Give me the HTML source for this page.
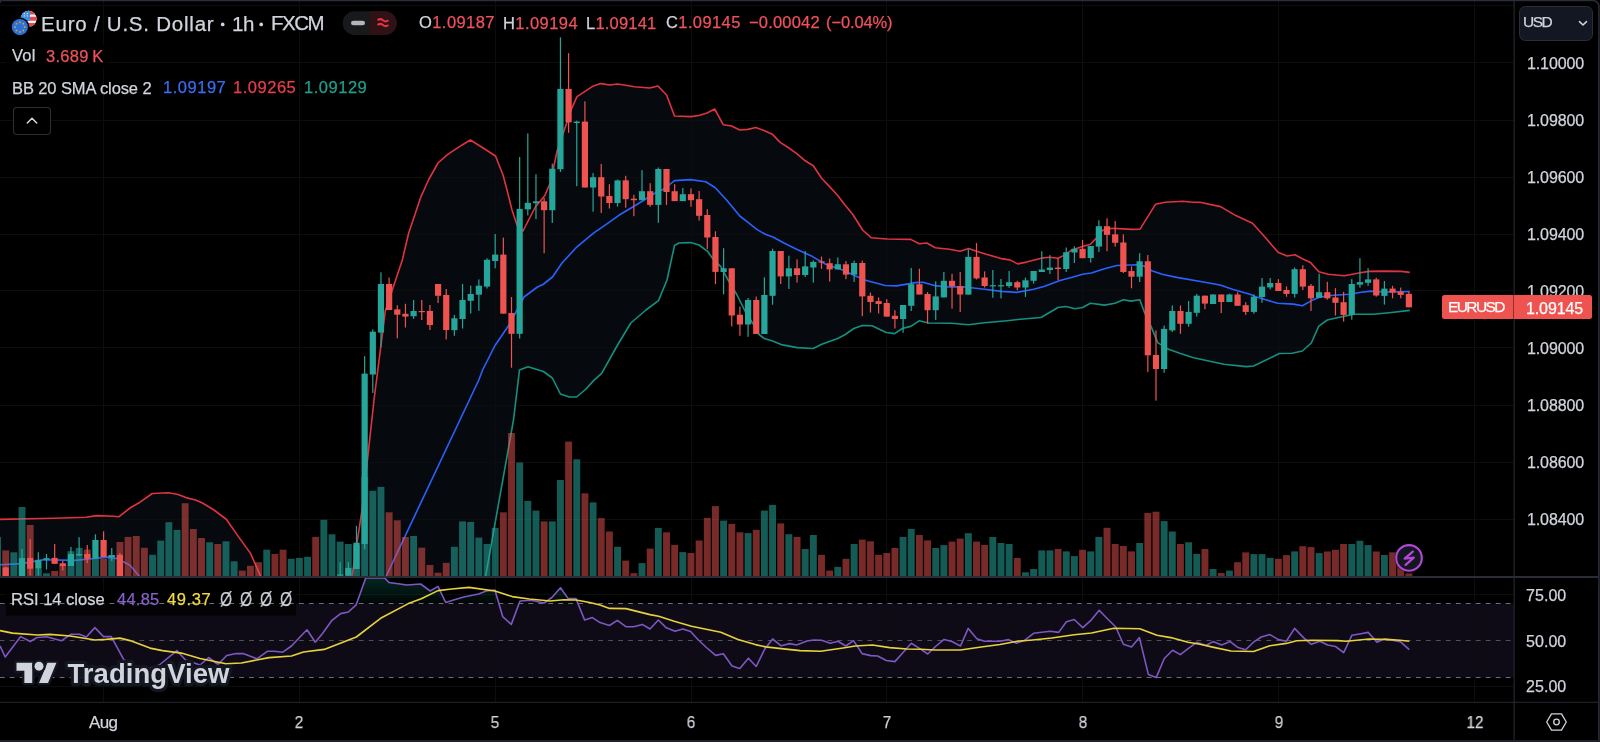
<!DOCTYPE html>
<html><head><meta charset="utf-8"><style>
html,body{margin:0;padding:0;background:#000;width:1600px;height:742px;overflow:hidden}
.t{position:absolute;white-space:pre;font-family:"Liberation Sans", sans-serif;line-height:1.2;-webkit-text-stroke:0.25px currentColor;will-change:transform}
.c{text-align:center}
.logo{font-weight:bold;color:#d1d4dc;letter-spacing:-0.3px;-webkit-text-stroke:0;text-shadow:0 0 2px #131722,0 0 2px #131722,1px 1px 0 #131722,-1px -1px 0 #131722,1px -1px 0 #131722,-1px 1px 0 #131722}
svg{position:absolute;left:0;top:0}
</style></head><body>
<svg width="1600" height="742" viewBox="0 0 1600 742">
<defs>
<clipPath id="main"><rect x="0" y="1" width="1514" height="576"/></clipPath>
<clipPath id="rsi"><rect x="0" y="578" width="1514" height="124"/></clipPath>
<clipPath id="ob"><rect x="0" y="578" width="1514" height="25.6"/></clipPath>
<linearGradient id="obg" x1="0" y1="578" x2="0" y2="603.6" gradientUnits="userSpaceOnUse"><stop offset="0" stop-color="#0b7a66" stop-opacity="0.32"/><stop offset="1" stop-color="#0b7a66" stop-opacity="0.05"/></linearGradient>
</defs>
<g clip-path="url(#main)">
<polygon points="0.0,519.4 54.0,518.3 86.0,517.2 97.0,515.6 113.0,516.2 119.0,516.7 130.0,508.0 140.0,502.2 152.3,493.5 168.5,492.7 178.0,494.5 186.0,497.6 195.5,500.0 202.0,502.7 214.0,510.0 226.5,519.5 237.0,534.6 250.5,553.4 261.0,577.0 261.0,600.0 0.0,600.0" fill="#060a0f"/>
<polygon points="351.9,577.0 355.0,556.0 362.0,510.0 374.0,400.0 385.3,311.0 402.3,260.0 408.7,233.0 421.0,196.6 428.5,180.0 438.0,163.0 447.4,154.7 462.5,144.7 470.4,140.0 483.2,148.0 495.5,156.0 503.0,175.0 507.0,190.0 512.0,210.0 517.0,225.0 523.0,231.0 535.3,207.0 544.7,195.7 550.4,182.5 557.0,151.3 564.3,130.0 571.7,108.4 577.0,96.7 592.6,86.3 600.6,83.6 610.0,85.0 617.5,84.0 627.0,85.5 634.5,86.8 649.6,88.0 658.0,86.0 666.6,95.0 674.5,116.0 691.0,116.6 698.7,115.5 707.0,113.0 714.7,109.0 723.2,124.7 731.7,126.0 739.7,130.0 747.8,129.4 755.9,127.5 764.0,130.5 772.8,134.6 780.1,142.4 788.2,147.5 797.1,153.9 805.2,160.8 813.3,165.8 821.4,178.0 828.6,185.6 837.5,195.3 844.8,204.8 852.9,214.5 862.6,230.0 871.1,237.7 887.2,239.0 910.8,239.4 919.2,243.8 926.8,243.0 935.3,247.7 949.4,249.2 960.0,251.2 968.7,248.6 976.6,251.2 986.2,254.2 1001.1,258.6 1009.9,259.9 1017.7,263.9 1026.5,262.1 1042.2,257.9 1050.1,257.3 1058.0,258.2 1063.3,255.6 1071.1,250.3 1082.5,246.4 1090.4,244.2 1095.6,238.9 1102.6,230.2 1112.0,228.3 1123.4,228.9 1131.9,229.4 1140.0,229.2 1155.5,204.3 1165.0,202.3 1182.8,201.3 1193.2,202.3 1200.0,202.3 1220.5,206.6 1235.8,215.6 1252.5,223.3 1264.0,236.0 1278.0,252.2 1287.0,256.0 1295.0,254.8 1301.9,258.5 1310.4,262.4 1318.8,271.8 1328.5,274.3 1344.3,275.7 1358.9,273.0 1368.6,271.4 1385.6,271.1 1401.3,271.4 1409.8,272.4 1409.8,310.4 1391.6,312.5 1373.4,314.3 1354.0,314.3 1340.7,317.0 1327.3,320.0 1318.8,326.2 1311.3,343.0 1302.4,351.0 1292.1,353.2 1279.3,353.5 1253.7,366.0 1246.0,366.6 1223.8,364.3 1208.7,361.0 1193.6,357.7 1180.4,353.6 1167.2,348.7 1157.7,342.6 1151.0,326.4 1144.5,312.5 1139.8,299.8 1131.0,301.1 1123.4,299.8 1115.0,303.2 1104.5,305.1 1090.4,303.2 1082.6,307.5 1075.0,308.7 1065.7,306.5 1058.0,307.5 1041.0,317.5 1020.4,319.3 1007.2,320.7 984.5,322.7 968.5,324.7 951.3,323.2 928.7,323.0 919.2,320.8 910.8,326.4 902.3,328.5 894.7,333.6 886.2,332.5 872.0,325.7 862.3,325.5 853.8,328.5 845.3,334.5 837.7,338.5 821.7,344.3 813.2,348.5 797.2,347.6 781.1,344.6 772.6,341.0 764.2,338.5 758.5,334.0 754.0,325.3 744.5,310.0 737.0,295.0 727.5,279.0 720.8,266.6 713.0,259.0 707.5,251.3 699.0,245.0 690.6,242.6 679.0,243.0 674.5,245.5 667.0,280.0 658.5,300.6 646.0,310.0 630.8,323.0 617.0,346.0 601.7,373.3 593.6,380.6 585.5,389.5 576.6,397.0 569.3,397.0 560.4,394.0 552.3,378.0 543.4,371.5 528.0,366.7 519.5,370.0 513.5,420.0 485.5,577.0 351.9,600.0" fill="#060a0f"/>
<rect x="0" y="5" width="1514" height="1" fill="#0d0d0d"/>
<rect x="0" y="62" width="1514" height="1" fill="#0d0d0d"/>
<rect x="0" y="120" width="1514" height="1" fill="#0d0d0d"/>
<rect x="0" y="177" width="1514" height="1" fill="#0d0d0d"/>
<rect x="0" y="234" width="1514" height="1" fill="#0d0d0d"/>
<rect x="0" y="290" width="1514" height="1" fill="#0d0d0d"/>
<rect x="0" y="347" width="1514" height="1" fill="#0d0d0d"/>
<rect x="0" y="405" width="1514" height="1" fill="#0d0d0d"/>
<rect x="0" y="462" width="1514" height="1" fill="#0d0d0d"/>
<rect x="0" y="519" width="1514" height="1" fill="#0d0d0d"/>
<rect x="103" y="0" width="1" height="702" fill="#0d0d0d"/>
<rect x="299" y="0" width="1" height="702" fill="#0d0d0d"/>
<rect x="495" y="0" width="1" height="702" fill="#0d0d0d"/>
<rect x="691" y="0" width="1" height="702" fill="#0d0d0d"/>
<rect x="886" y="0" width="1" height="702" fill="#0d0d0d"/>
<rect x="1082" y="0" width="1" height="702" fill="#0d0d0d"/>
<rect x="1278" y="0" width="1" height="702" fill="#0d0d0d"/>
<rect x="1474" y="0" width="1" height="702" fill="#0d0d0d"/>
<polyline points="0.0,519.4 54.0,518.3 86.0,517.2 97.0,515.6 113.0,516.2 119.0,516.7 130.0,508.0 140.0,502.2 152.3,493.5 168.5,492.7 178.0,494.5 186.0,497.6 195.5,500.0 202.0,502.7 214.0,510.0 226.5,519.5 237.0,534.6 250.5,553.4 261.0,577.0" fill="none" stroke="#e03340" stroke-width="1.6" stroke-linejoin="round"/>
<polyline points="351.9,577.0 355.0,556.0 362.0,510.0 374.0,400.0 385.3,311.0 402.3,260.0 408.7,233.0 421.0,196.6 428.5,180.0 438.0,163.0 447.4,154.7 462.5,144.7 470.4,140.0 483.2,148.0 495.5,156.0 503.0,175.0 507.0,190.0 512.0,210.0 517.0,225.0 523.0,231.0 535.3,207.0 544.7,195.7 550.4,182.5 557.0,151.3 564.3,130.0 571.7,108.4 577.0,96.7 592.6,86.3 600.6,83.6 610.0,85.0 617.5,84.0 627.0,85.5 634.5,86.8 649.6,88.0 658.0,86.0 666.6,95.0 674.5,116.0 691.0,116.6 698.7,115.5 707.0,113.0 714.7,109.0 723.2,124.7 731.7,126.0 739.7,130.0 747.8,129.4 755.9,127.5 764.0,130.5 772.8,134.6 780.1,142.4 788.2,147.5 797.1,153.9 805.2,160.8 813.3,165.8 821.4,178.0 828.6,185.6 837.5,195.3 844.8,204.8 852.9,214.5 862.6,230.0 871.1,237.7 887.2,239.0 910.8,239.4 919.2,243.8 926.8,243.0 935.3,247.7 949.4,249.2 960.0,251.2 968.7,248.6 976.6,251.2 986.2,254.2 1001.1,258.6 1009.9,259.9 1017.7,263.9 1026.5,262.1 1042.2,257.9 1050.1,257.3 1058.0,258.2 1063.3,255.6 1071.1,250.3 1082.5,246.4 1090.4,244.2 1095.6,238.9 1102.6,230.2 1112.0,228.3 1123.4,228.9 1131.9,229.4 1140.0,229.2 1155.5,204.3 1165.0,202.3 1182.8,201.3 1193.2,202.3 1200.0,202.3 1220.5,206.6 1235.8,215.6 1252.5,223.3 1264.0,236.0 1278.0,252.2 1287.0,256.0 1295.0,254.8 1301.9,258.5 1310.4,262.4 1318.8,271.8 1328.5,274.3 1344.3,275.7 1358.9,273.0 1368.6,271.4 1385.6,271.1 1401.3,271.4 1409.8,272.4" fill="none" stroke="#e03340" stroke-width="1.6" stroke-linejoin="round"/>
<polyline points="0.0,564.7 21.6,563.6 43.0,559.8 75.0,560.4 91.6,558.7 107.8,557.1 117.5,558.7 130.0,565.2 140.0,577.0" fill="none" stroke="#2962ff" stroke-width="1.6" stroke-linejoin="round"/>
<polyline points="385.8,577.0 478.8,380.0 482.6,370.0 495.0,345.5 509.0,325.0 524.0,297.0 537.4,287.0 543.0,284.5 552.5,277.0 562.0,263.0 577.0,246.8 593.8,232.8 603.0,226.6 618.9,215.3 637.7,204.0 654.7,193.3 664.0,189.0 674.5,180.6 690.6,179.6 705.7,181.7 715.0,187.5 726.6,200.0 739.8,216.0 748.3,222.6 756.8,229.4 765.3,234.3 772.8,237.0 784.0,243.0 795.5,248.7 812.5,256.6 825.7,264.2 842.6,270.0 855.0,275.8 866.4,280.6 885.3,285.5 896.6,285.9 915.5,282.6 923.0,282.3 936.2,285.9 949.4,287.0 962.6,286.8 984.5,289.3 1001.5,291.4 1016.6,292.4 1033.6,289.2 1044.0,286.4 1060.0,280.5 1073.2,277.0 1082.6,274.3 1091.3,273.0 1104.5,268.7 1116.8,265.5 1136.6,264.7 1144.0,266.0 1151.7,270.8 1163.0,274.5 1178.0,277.6 1199.2,281.3 1220.0,285.0 1233.2,289.4 1250.0,294.2 1255.8,296.7 1277.6,303.3 1293.4,304.1 1302.5,305.8 1311.6,300.6 1320.0,297.0 1331.0,295.5 1349.2,294.3 1361.3,292.3 1371.0,291.1 1385.6,292.0 1409.8,291.5" fill="none" stroke="#2962ff" stroke-width="1.6" stroke-linejoin="round"/>
<polyline points="485.5,577.0 513.5,420.0 519.5,370.0 528.0,366.7 543.4,371.5 552.3,378.0 560.4,394.0 569.3,397.0 576.6,397.0 585.5,389.5 593.6,380.6 601.7,373.3 617.0,346.0 630.8,323.0 646.0,310.0 658.5,300.6 667.0,280.0 674.5,245.5 679.0,243.0 690.6,242.6 699.0,245.0 707.5,251.3 713.0,259.0 720.8,266.6 727.5,279.0 737.0,295.0 744.5,310.0 754.0,325.3 758.5,334.0 764.2,338.5 772.6,341.0 781.1,344.6 797.2,347.6 813.2,348.5 821.7,344.3 837.7,338.5 845.3,334.5 853.8,328.5 862.3,325.5 872.0,325.7 886.2,332.5 894.7,333.6 902.3,328.5 910.8,326.4 919.2,320.8 928.7,323.0 951.3,323.2 968.5,324.7 984.5,322.7 1007.2,320.7 1020.4,319.3 1041.0,317.5 1058.0,307.5 1065.7,306.5 1075.0,308.7 1082.6,307.5 1090.4,303.2 1104.5,305.1 1115.0,303.2 1123.4,299.8 1131.0,301.1 1139.8,299.8 1144.5,312.5 1151.0,326.4 1157.7,342.6 1167.2,348.7 1180.4,353.6 1193.6,357.7 1208.7,361.0 1223.8,364.3 1246.0,366.6 1253.7,366.0 1279.3,353.5 1292.1,353.2 1302.4,351.0 1311.3,343.0 1318.8,326.2 1327.3,320.0 1340.7,317.0 1354.0,314.3 1373.4,314.3 1391.6,312.5 1409.8,310.4" fill="none" stroke="#159080" stroke-width="1.6" stroke-linejoin="round"/>
<rect x="-5.91" y="537.0" width="6.9" height="39.0" fill="rgba(38,166,154,0.55)"/>
<rect x="2.25" y="550.4" width="6.9" height="25.6" fill="rgba(239,83,80,0.5)"/>
<rect x="10.41" y="552.3" width="6.9" height="23.7" fill="rgba(38,166,154,0.55)"/>
<rect x="18.57" y="507.0" width="6.9" height="69.0" fill="rgba(38,166,154,0.55)"/>
<rect x="26.72" y="525.0" width="6.9" height="51.0" fill="rgba(239,83,80,0.5)"/>
<rect x="34.88" y="569.0" width="6.9" height="7.0" fill="rgba(38,166,154,0.55)"/>
<rect x="43.04" y="573.3" width="6.9" height="2.7" fill="rgba(38,166,154,0.55)"/>
<rect x="51.20" y="571.0" width="6.9" height="5.0" fill="rgba(239,83,80,0.5)"/>
<rect x="59.36" y="564.7" width="6.9" height="11.3" fill="rgba(239,83,80,0.5)"/>
<rect x="67.51" y="551.2" width="6.9" height="24.8" fill="rgba(38,166,154,0.55)"/>
<rect x="75.67" y="548.0" width="6.9" height="28.0" fill="rgba(38,166,154,0.55)"/>
<rect x="83.83" y="549.6" width="6.9" height="26.4" fill="rgba(239,83,80,0.5)"/>
<rect x="91.99" y="558.7" width="6.9" height="17.3" fill="rgba(38,166,154,0.55)"/>
<rect x="100.15" y="558.7" width="6.9" height="17.3" fill="rgba(239,83,80,0.5)"/>
<rect x="108.30" y="555.5" width="6.9" height="20.5" fill="rgba(38,166,154,0.55)"/>
<rect x="116.46" y="542.0" width="6.9" height="34.0" fill="rgba(239,83,80,0.5)"/>
<rect x="124.62" y="536.9" width="6.9" height="39.1" fill="rgba(239,83,80,0.5)"/>
<rect x="132.78" y="536.0" width="6.9" height="40.0" fill="rgba(239,83,80,0.5)"/>
<rect x="140.94" y="547.8" width="6.9" height="28.2" fill="rgba(239,83,80,0.5)"/>
<rect x="149.09" y="554.8" width="6.9" height="21.2" fill="rgba(38,166,154,0.55)"/>
<rect x="157.25" y="540.6" width="6.9" height="35.4" fill="rgba(38,166,154,0.55)"/>
<rect x="165.41" y="522.2" width="6.9" height="53.8" fill="rgba(38,166,154,0.55)"/>
<rect x="173.57" y="529.9" width="6.9" height="46.1" fill="rgba(38,166,154,0.55)"/>
<rect x="181.73" y="503.2" width="6.9" height="72.8" fill="rgba(239,83,80,0.5)"/>
<rect x="189.88" y="529.0" width="6.9" height="47.0" fill="rgba(239,83,80,0.5)"/>
<rect x="198.04" y="538.0" width="6.9" height="38.0" fill="rgba(239,83,80,0.5)"/>
<rect x="206.20" y="542.3" width="6.9" height="33.7" fill="rgba(38,166,154,0.55)"/>
<rect x="214.36" y="544.0" width="6.9" height="32.0" fill="rgba(239,83,80,0.5)"/>
<rect x="222.52" y="541.3" width="6.9" height="34.7" fill="rgba(38,166,154,0.55)"/>
<rect x="230.67" y="561.3" width="6.9" height="14.7" fill="rgba(38,166,154,0.55)"/>
<rect x="238.83" y="570.6" width="6.9" height="5.4" fill="rgba(239,83,80,0.5)"/>
<rect x="246.99" y="565.8" width="6.9" height="10.2" fill="rgba(239,83,80,0.5)"/>
<rect x="255.15" y="562.2" width="6.9" height="13.8" fill="rgba(239,83,80,0.5)"/>
<rect x="263.31" y="549.7" width="6.9" height="26.3" fill="rgba(38,166,154,0.55)"/>
<rect x="271.46" y="553.9" width="6.9" height="22.1" fill="rgba(239,83,80,0.5)"/>
<rect x="279.62" y="549.7" width="6.9" height="26.3" fill="rgba(239,83,80,0.5)"/>
<rect x="287.78" y="558.8" width="6.9" height="17.2" fill="rgba(38,166,154,0.55)"/>
<rect x="295.94" y="557.9" width="6.9" height="18.1" fill="rgba(38,166,154,0.55)"/>
<rect x="304.10" y="556.8" width="6.9" height="19.2" fill="rgba(38,166,154,0.55)"/>
<rect x="312.25" y="536.9" width="6.9" height="39.1" fill="rgba(239,83,80,0.5)"/>
<rect x="320.41" y="519.8" width="6.9" height="56.2" fill="rgba(38,166,154,0.55)"/>
<rect x="328.57" y="534.3" width="6.9" height="41.7" fill="rgba(38,166,154,0.55)"/>
<rect x="336.73" y="541.6" width="6.9" height="34.4" fill="rgba(38,166,154,0.55)"/>
<rect x="344.89" y="544.0" width="6.9" height="32.0" fill="rgba(38,166,154,0.55)"/>
<rect x="353.04" y="545.0" width="6.9" height="31.0" fill="rgba(38,166,154,0.55)"/>
<rect x="361.20" y="477.0" width="6.9" height="99.0" fill="rgba(38,166,154,0.55)"/>
<rect x="369.36" y="490.8" width="6.9" height="85.2" fill="rgba(38,166,154,0.55)"/>
<rect x="377.52" y="486.9" width="6.9" height="89.1" fill="rgba(38,166,154,0.55)"/>
<rect x="385.68" y="512.3" width="6.9" height="63.7" fill="rgba(239,83,80,0.5)"/>
<rect x="393.83" y="520.3" width="6.9" height="55.7" fill="rgba(239,83,80,0.5)"/>
<rect x="401.99" y="537.0" width="6.9" height="39.0" fill="rgba(239,83,80,0.5)"/>
<rect x="410.15" y="536.0" width="6.9" height="40.0" fill="rgba(38,166,154,0.55)"/>
<rect x="418.31" y="547.7" width="6.9" height="28.3" fill="rgba(239,83,80,0.5)"/>
<rect x="426.47" y="565.0" width="6.9" height="11.0" fill="rgba(239,83,80,0.5)"/>
<rect x="434.62" y="572.7" width="6.9" height="3.3" fill="rgba(239,83,80,0.5)"/>
<rect x="442.78" y="562.8" width="6.9" height="13.2" fill="rgba(239,83,80,0.5)"/>
<rect x="450.94" y="546.8" width="6.9" height="29.2" fill="rgba(38,166,154,0.55)"/>
<rect x="459.10" y="521.4" width="6.9" height="54.6" fill="rgba(38,166,154,0.55)"/>
<rect x="467.26" y="522.0" width="6.9" height="54.0" fill="rgba(38,166,154,0.55)"/>
<rect x="475.41" y="537.6" width="6.9" height="38.4" fill="rgba(38,166,154,0.55)"/>
<rect x="483.57" y="544.0" width="6.9" height="32.0" fill="rgba(38,166,154,0.55)"/>
<rect x="491.73" y="527.9" width="6.9" height="48.1" fill="rgba(38,166,154,0.55)"/>
<rect x="499.89" y="512.3" width="6.9" height="63.7" fill="rgba(239,83,80,0.5)"/>
<rect x="508.05" y="433.0" width="6.9" height="143.0" fill="rgba(239,83,80,0.5)"/>
<rect x="516.20" y="462.5" width="6.9" height="113.5" fill="rgba(38,166,154,0.55)"/>
<rect x="524.36" y="500.9" width="6.9" height="75.1" fill="rgba(38,166,154,0.55)"/>
<rect x="532.52" y="510.6" width="6.9" height="65.4" fill="rgba(38,166,154,0.55)"/>
<rect x="540.68" y="521.4" width="6.9" height="54.6" fill="rgba(239,83,80,0.5)"/>
<rect x="548.84" y="521.4" width="6.9" height="54.6" fill="rgba(38,166,154,0.55)"/>
<rect x="556.99" y="480.0" width="6.9" height="96.0" fill="rgba(38,166,154,0.55)"/>
<rect x="565.15" y="441.6" width="6.9" height="134.4" fill="rgba(239,83,80,0.5)"/>
<rect x="573.31" y="459.3" width="6.9" height="116.7" fill="rgba(38,166,154,0.55)"/>
<rect x="581.47" y="493.3" width="6.9" height="82.7" fill="rgba(239,83,80,0.5)"/>
<rect x="589.63" y="502.4" width="6.9" height="73.6" fill="rgba(38,166,154,0.55)"/>
<rect x="597.78" y="518.1" width="6.9" height="57.9" fill="rgba(239,83,80,0.5)"/>
<rect x="605.94" y="531.5" width="6.9" height="44.5" fill="rgba(239,83,80,0.5)"/>
<rect x="614.10" y="546.8" width="6.9" height="29.2" fill="rgba(38,166,154,0.55)"/>
<rect x="622.26" y="560.6" width="6.9" height="15.4" fill="rgba(239,83,80,0.5)"/>
<rect x="630.42" y="573.2" width="6.9" height="2.8" fill="rgba(239,83,80,0.5)"/>
<rect x="638.57" y="563.1" width="6.9" height="12.9" fill="rgba(38,166,154,0.55)"/>
<rect x="646.73" y="548.6" width="6.9" height="27.4" fill="rgba(239,83,80,0.5)"/>
<rect x="654.89" y="527.9" width="6.9" height="48.1" fill="rgba(38,166,154,0.55)"/>
<rect x="663.05" y="532.3" width="6.9" height="43.7" fill="rgba(239,83,80,0.5)"/>
<rect x="671.21" y="544.9" width="6.9" height="31.1" fill="rgba(239,83,80,0.5)"/>
<rect x="679.36" y="552.1" width="6.9" height="23.9" fill="rgba(38,166,154,0.55)"/>
<rect x="687.52" y="553.0" width="6.9" height="23.0" fill="rgba(239,83,80,0.5)"/>
<rect x="695.68" y="540.5" width="6.9" height="35.5" fill="rgba(239,83,80,0.5)"/>
<rect x="703.84" y="517.9" width="6.9" height="58.1" fill="rgba(239,83,80,0.5)"/>
<rect x="712.00" y="506.1" width="6.9" height="69.9" fill="rgba(239,83,80,0.5)"/>
<rect x="720.15" y="520.6" width="6.9" height="55.4" fill="rgba(38,166,154,0.55)"/>
<rect x="728.31" y="523.9" width="6.9" height="52.1" fill="rgba(239,83,80,0.5)"/>
<rect x="736.47" y="532.3" width="6.9" height="43.7" fill="rgba(239,83,80,0.5)"/>
<rect x="744.63" y="533.1" width="6.9" height="42.9" fill="rgba(38,166,154,0.55)"/>
<rect x="752.79" y="529.8" width="6.9" height="46.2" fill="rgba(239,83,80,0.5)"/>
<rect x="760.94" y="510.6" width="6.9" height="65.4" fill="rgba(38,166,154,0.55)"/>
<rect x="769.10" y="504.9" width="6.9" height="71.1" fill="rgba(38,166,154,0.55)"/>
<rect x="777.26" y="523.4" width="6.9" height="52.6" fill="rgba(239,83,80,0.5)"/>
<rect x="785.42" y="534.2" width="6.9" height="41.8" fill="rgba(38,166,154,0.55)"/>
<rect x="793.58" y="536.9" width="6.9" height="39.1" fill="rgba(239,83,80,0.5)"/>
<rect x="801.73" y="549.0" width="6.9" height="27.0" fill="rgba(38,166,154,0.55)"/>
<rect x="809.89" y="535.0" width="6.9" height="41.0" fill="rgba(38,166,154,0.55)"/>
<rect x="818.05" y="554.8" width="6.9" height="21.2" fill="rgba(239,83,80,0.5)"/>
<rect x="826.21" y="570.6" width="6.9" height="5.4" fill="rgba(239,83,80,0.5)"/>
<rect x="834.37" y="566.9" width="6.9" height="9.1" fill="rgba(38,166,154,0.55)"/>
<rect x="842.52" y="558.8" width="6.9" height="17.2" fill="rgba(239,83,80,0.5)"/>
<rect x="850.68" y="544.0" width="6.9" height="32.0" fill="rgba(38,166,154,0.55)"/>
<rect x="858.84" y="539.6" width="6.9" height="36.4" fill="rgba(239,83,80,0.5)"/>
<rect x="867.00" y="541.3" width="6.9" height="34.7" fill="rgba(239,83,80,0.5)"/>
<rect x="875.16" y="554.8" width="6.9" height="21.2" fill="rgba(239,83,80,0.5)"/>
<rect x="883.31" y="553.0" width="6.9" height="23.0" fill="rgba(239,83,80,0.5)"/>
<rect x="891.47" y="548.0" width="6.9" height="28.0" fill="rgba(239,83,80,0.5)"/>
<rect x="899.63" y="536.9" width="6.9" height="39.1" fill="rgba(38,166,154,0.55)"/>
<rect x="907.79" y="528.9" width="6.9" height="47.1" fill="rgba(38,166,154,0.55)"/>
<rect x="915.95" y="535.0" width="6.9" height="41.0" fill="rgba(239,83,80,0.5)"/>
<rect x="924.10" y="540.4" width="6.9" height="35.6" fill="rgba(239,83,80,0.5)"/>
<rect x="932.26" y="548.0" width="6.9" height="28.0" fill="rgba(38,166,154,0.55)"/>
<rect x="940.42" y="545.1" width="6.9" height="30.9" fill="rgba(38,166,154,0.55)"/>
<rect x="948.58" y="541.6" width="6.9" height="34.4" fill="rgba(239,83,80,0.5)"/>
<rect x="956.74" y="538.6" width="6.9" height="37.4" fill="rgba(239,83,80,0.5)"/>
<rect x="964.89" y="533.2" width="6.9" height="42.8" fill="rgba(38,166,154,0.55)"/>
<rect x="973.05" y="541.6" width="6.9" height="34.4" fill="rgba(239,83,80,0.5)"/>
<rect x="981.21" y="545.0" width="6.9" height="31.0" fill="rgba(239,83,80,0.5)"/>
<rect x="989.37" y="537.0" width="6.9" height="39.0" fill="rgba(38,166,154,0.55)"/>
<rect x="997.53" y="543.0" width="6.9" height="33.0" fill="rgba(38,166,154,0.55)"/>
<rect x="1005.68" y="544.0" width="6.9" height="32.0" fill="rgba(38,166,154,0.55)"/>
<rect x="1013.84" y="557.9" width="6.9" height="18.1" fill="rgba(239,83,80,0.5)"/>
<rect x="1022.00" y="572.3" width="6.9" height="3.7" fill="rgba(38,166,154,0.55)"/>
<rect x="1030.16" y="569.0" width="6.9" height="7.0" fill="rgba(38,166,154,0.55)"/>
<rect x="1038.32" y="550.4" width="6.9" height="25.6" fill="rgba(38,166,154,0.55)"/>
<rect x="1046.47" y="550.4" width="6.9" height="25.6" fill="rgba(38,166,154,0.55)"/>
<rect x="1054.63" y="549.0" width="6.9" height="27.0" fill="rgba(239,83,80,0.5)"/>
<rect x="1062.79" y="551.4" width="6.9" height="24.6" fill="rgba(38,166,154,0.55)"/>
<rect x="1070.95" y="556.1" width="6.9" height="19.9" fill="rgba(38,166,154,0.55)"/>
<rect x="1079.11" y="549.8" width="6.9" height="26.2" fill="rgba(239,83,80,0.5)"/>
<rect x="1087.26" y="551.4" width="6.9" height="24.6" fill="rgba(38,166,154,0.55)"/>
<rect x="1095.42" y="536.9" width="6.9" height="39.1" fill="rgba(38,166,154,0.55)"/>
<rect x="1103.58" y="527.8" width="6.9" height="48.2" fill="rgba(239,83,80,0.5)"/>
<rect x="1111.74" y="544.0" width="6.9" height="32.0" fill="rgba(239,83,80,0.5)"/>
<rect x="1119.90" y="546.0" width="6.9" height="30.0" fill="rgba(239,83,80,0.5)"/>
<rect x="1128.05" y="551.4" width="6.9" height="24.6" fill="rgba(239,83,80,0.5)"/>
<rect x="1136.21" y="543.0" width="6.9" height="33.0" fill="rgba(38,166,154,0.55)"/>
<rect x="1144.37" y="513.0" width="6.9" height="63.0" fill="rgba(239,83,80,0.5)"/>
<rect x="1152.53" y="511.7" width="6.9" height="64.3" fill="rgba(239,83,80,0.5)"/>
<rect x="1160.69" y="521.1" width="6.9" height="54.9" fill="rgba(38,166,154,0.55)"/>
<rect x="1168.84" y="531.5" width="6.9" height="44.5" fill="rgba(38,166,154,0.55)"/>
<rect x="1177.00" y="544.0" width="6.9" height="32.0" fill="rgba(239,83,80,0.5)"/>
<rect x="1185.16" y="542.3" width="6.9" height="33.7" fill="rgba(38,166,154,0.55)"/>
<rect x="1193.32" y="553.9" width="6.9" height="22.1" fill="rgba(38,166,154,0.55)"/>
<rect x="1201.48" y="549.0" width="6.9" height="27.0" fill="rgba(239,83,80,0.5)"/>
<rect x="1209.63" y="569.0" width="6.9" height="7.0" fill="rgba(38,166,154,0.55)"/>
<rect x="1217.79" y="573.0" width="6.9" height="3.0" fill="rgba(239,83,80,0.5)"/>
<rect x="1225.95" y="570.6" width="6.9" height="5.4" fill="rgba(38,166,154,0.55)"/>
<rect x="1234.11" y="562.2" width="6.9" height="13.8" fill="rgba(239,83,80,0.5)"/>
<rect x="1242.27" y="552.4" width="6.9" height="23.6" fill="rgba(239,83,80,0.5)"/>
<rect x="1250.42" y="554.1" width="6.9" height="21.9" fill="rgba(38,166,154,0.55)"/>
<rect x="1258.58" y="554.1" width="6.9" height="21.9" fill="rgba(38,166,154,0.55)"/>
<rect x="1266.74" y="557.9" width="6.9" height="18.1" fill="rgba(38,166,154,0.55)"/>
<rect x="1274.90" y="558.8" width="6.9" height="17.2" fill="rgba(239,83,80,0.5)"/>
<rect x="1283.06" y="555.1" width="6.9" height="20.9" fill="rgba(239,83,80,0.5)"/>
<rect x="1291.21" y="551.4" width="6.9" height="24.6" fill="rgba(38,166,154,0.55)"/>
<rect x="1299.37" y="546.2" width="6.9" height="29.8" fill="rgba(239,83,80,0.5)"/>
<rect x="1307.53" y="547.1" width="6.9" height="28.9" fill="rgba(239,83,80,0.5)"/>
<rect x="1315.69" y="553.1" width="6.9" height="22.9" fill="rgba(38,166,154,0.55)"/>
<rect x="1323.85" y="551.5" width="6.9" height="24.5" fill="rgba(239,83,80,0.5)"/>
<rect x="1332.00" y="549.8" width="6.9" height="26.2" fill="rgba(239,83,80,0.5)"/>
<rect x="1340.16" y="544.0" width="6.9" height="32.0" fill="rgba(239,83,80,0.5)"/>
<rect x="1348.32" y="544.0" width="6.9" height="32.0" fill="rgba(38,166,154,0.55)"/>
<rect x="1356.48" y="540.8" width="6.9" height="35.2" fill="rgba(38,166,154,0.55)"/>
<rect x="1364.64" y="545.1" width="6.9" height="30.9" fill="rgba(38,166,154,0.55)"/>
<rect x="1372.79" y="551.5" width="6.9" height="24.5" fill="rgba(239,83,80,0.5)"/>
<rect x="1380.95" y="555.0" width="6.9" height="21.0" fill="rgba(38,166,154,0.55)"/>
<rect x="1389.11" y="552.3" width="6.9" height="23.7" fill="rgba(239,83,80,0.5)"/>
<rect x="1397.27" y="560.0" width="6.9" height="16.0" fill="rgba(239,83,80,0.5)"/>
<rect x="1405.43" y="573.4" width="6.9" height="2.6" fill="rgba(239,83,80,0.5)"/>
<rect x="5.10" y="566.8" width="1.2" height="11.2" fill="#ef5350"/>
<rect x="2.60" y="567.4" width="6.2" height="8.6" fill="#ef5350"/>
<rect x="21.42" y="549.0" width="1.2" height="29.0" fill="#26a69a"/>
<rect x="18.92" y="558.0" width="6.2" height="18.0" fill="#26a69a"/>
<rect x="29.57" y="539.0" width="1.2" height="36.5" fill="#ef5350"/>
<rect x="27.07" y="557.9" width="6.2" height="10.8" fill="#ef5350"/>
<rect x="37.73" y="552.3" width="1.2" height="23.2" fill="#26a69a"/>
<rect x="35.23" y="559.8" width="6.2" height="8.9" fill="#26a69a"/>
<rect x="45.89" y="554.0" width="1.2" height="15.5" fill="#26a69a"/>
<rect x="43.39" y="558.2" width="6.2" height="1.6" fill="#26a69a"/>
<rect x="54.05" y="544.0" width="1.2" height="19.8" fill="#ef5350"/>
<rect x="51.55" y="557.9" width="6.2" height="5.9" fill="#ef5350"/>
<rect x="62.21" y="561.0" width="1.2" height="9.6" fill="#ef5350"/>
<rect x="59.71" y="563.3" width="6.2" height="2.7" fill="#ef5350"/>
<rect x="70.36" y="546.9" width="1.2" height="19.1" fill="#26a69a"/>
<rect x="67.86" y="554.0" width="6.2" height="12.0" fill="#26a69a"/>
<rect x="78.52" y="537.2" width="1.2" height="18.8" fill="#26a69a"/>
<rect x="76.02" y="554.0" width="6.2" height="1.5" fill="#26a69a"/>
<rect x="86.68" y="545.0" width="1.2" height="18.0" fill="#ef5350"/>
<rect x="84.18" y="554.0" width="6.2" height="4.7" fill="#ef5350"/>
<rect x="94.84" y="534.3" width="1.2" height="24.4" fill="#26a69a"/>
<rect x="92.34" y="540.0" width="6.2" height="18.7" fill="#26a69a"/>
<rect x="103.00" y="531.3" width="1.2" height="25.7" fill="#ef5350"/>
<rect x="100.50" y="540.0" width="6.2" height="17.0" fill="#ef5350"/>
<rect x="111.15" y="548.0" width="1.2" height="13.0" fill="#26a69a"/>
<rect x="108.65" y="555.0" width="6.2" height="2.0" fill="#26a69a"/>
<rect x="119.31" y="553.0" width="1.2" height="25.0" fill="#ef5350"/>
<rect x="116.81" y="554.8" width="6.2" height="23.2" fill="#ef5350"/>
<rect x="339.58" y="562.2" width="1.2" height="13.3" fill="#26a69a"/>
<rect x="337.08" y="574.5" width="6.2" height="1.2" fill="#26a69a"/>
<rect x="347.74" y="562.0" width="1.2" height="15.0" fill="#26a69a"/>
<rect x="345.24" y="567.9" width="6.2" height="7.8" fill="#26a69a"/>
<rect x="355.89" y="525.8" width="1.2" height="43.2" fill="#26a69a"/>
<rect x="353.39" y="542.7" width="6.2" height="26.3" fill="#26a69a"/>
<rect x="364.05" y="356.2" width="1.2" height="193.2" fill="#26a69a"/>
<rect x="361.55" y="373.6" width="6.2" height="170.4" fill="#26a69a"/>
<rect x="372.21" y="329.4" width="1.2" height="63.6" fill="#26a69a"/>
<rect x="369.71" y="331.7" width="6.2" height="42.8" fill="#26a69a"/>
<rect x="380.37" y="272.3" width="1.2" height="74.9" fill="#26a69a"/>
<rect x="377.87" y="284.0" width="6.2" height="48.6" fill="#26a69a"/>
<rect x="388.53" y="277.5" width="1.2" height="32.5" fill="#ef5350"/>
<rect x="386.03" y="284.0" width="6.2" height="26.0" fill="#ef5350"/>
<rect x="396.68" y="305.3" width="1.2" height="33.0" fill="#ef5350"/>
<rect x="394.18" y="309.4" width="6.2" height="5.3" fill="#ef5350"/>
<rect x="404.84" y="303.8" width="1.2" height="23.7" fill="#ef5350"/>
<rect x="402.34" y="313.8" width="6.2" height="2.8" fill="#ef5350"/>
<rect x="413.00" y="300.0" width="1.2" height="18.9" fill="#26a69a"/>
<rect x="410.50" y="311.0" width="6.2" height="5.2" fill="#26a69a"/>
<rect x="421.16" y="300.0" width="1.2" height="20.0" fill="#ef5350"/>
<rect x="418.66" y="311.0" width="6.2" height="1.2" fill="#ef5350"/>
<rect x="429.32" y="305.0" width="1.2" height="25.0" fill="#ef5350"/>
<rect x="426.82" y="311.0" width="6.2" height="14.0" fill="#ef5350"/>
<rect x="437.47" y="284.0" width="1.2" height="19.0" fill="#ef5350"/>
<rect x="434.97" y="284.0" width="6.2" height="11.8" fill="#ef5350"/>
<rect x="445.63" y="289.0" width="1.2" height="50.5" fill="#ef5350"/>
<rect x="443.13" y="295.0" width="6.2" height="35.0" fill="#ef5350"/>
<rect x="453.79" y="314.9" width="1.2" height="20.9" fill="#26a69a"/>
<rect x="451.29" y="318.3" width="6.2" height="11.8" fill="#26a69a"/>
<rect x="461.95" y="284.0" width="1.2" height="44.5" fill="#26a69a"/>
<rect x="459.45" y="300.0" width="6.2" height="19.0" fill="#26a69a"/>
<rect x="470.11" y="285.6" width="1.2" height="27.9" fill="#26a69a"/>
<rect x="467.61" y="294.0" width="6.2" height="6.8" fill="#26a69a"/>
<rect x="478.26" y="279.4" width="1.2" height="31.4" fill="#26a69a"/>
<rect x="475.76" y="285.7" width="6.2" height="9.0" fill="#26a69a"/>
<rect x="486.42" y="258.3" width="1.2" height="30.2" fill="#26a69a"/>
<rect x="483.92" y="259.8" width="6.2" height="26.8" fill="#26a69a"/>
<rect x="494.58" y="234.0" width="1.2" height="34.3" fill="#26a69a"/>
<rect x="492.08" y="254.6" width="6.2" height="6.4" fill="#26a69a"/>
<rect x="502.74" y="237.6" width="1.2" height="76.0" fill="#ef5350"/>
<rect x="500.24" y="254.6" width="6.2" height="59.0" fill="#ef5350"/>
<rect x="510.90" y="297.0" width="1.2" height="70.7" fill="#ef5350"/>
<rect x="508.40" y="313.0" width="6.2" height="20.8" fill="#ef5350"/>
<rect x="519.05" y="157.0" width="1.2" height="181.5" fill="#26a69a"/>
<rect x="516.55" y="208.9" width="6.2" height="124.9" fill="#26a69a"/>
<rect x="527.21" y="133.4" width="1.2" height="82.1" fill="#26a69a"/>
<rect x="524.71" y="202.8" width="6.2" height="6.6" fill="#26a69a"/>
<rect x="535.37" y="174.3" width="1.2" height="44.7" fill="#26a69a"/>
<rect x="532.87" y="201.3" width="6.2" height="1.9" fill="#26a69a"/>
<rect x="543.53" y="198.0" width="1.2" height="55.2" fill="#ef5350"/>
<rect x="541.03" y="201.3" width="6.2" height="8.9" fill="#ef5350"/>
<rect x="551.69" y="163.6" width="1.2" height="59.4" fill="#26a69a"/>
<rect x="549.19" y="168.7" width="6.2" height="41.5" fill="#26a69a"/>
<rect x="559.84" y="37.4" width="1.2" height="134.6" fill="#26a69a"/>
<rect x="557.34" y="88.9" width="6.2" height="80.3" fill="#26a69a"/>
<rect x="568.00" y="53.2" width="1.2" height="79.6" fill="#ef5350"/>
<rect x="565.50" y="88.9" width="6.2" height="33.4" fill="#ef5350"/>
<rect x="576.16" y="120.6" width="1.2" height="65.6" fill="#26a69a"/>
<rect x="573.66" y="121.6" width="6.2" height="1.4" fill="#26a69a"/>
<rect x="584.32" y="101.4" width="1.2" height="86.1" fill="#ef5350"/>
<rect x="581.82" y="121.6" width="6.2" height="65.9" fill="#ef5350"/>
<rect x="592.48" y="173.0" width="1.2" height="38.7" fill="#26a69a"/>
<rect x="589.98" y="177.2" width="6.2" height="10.3" fill="#26a69a"/>
<rect x="600.63" y="164.0" width="1.2" height="49.0" fill="#ef5350"/>
<rect x="598.13" y="177.2" width="6.2" height="19.3" fill="#ef5350"/>
<rect x="608.79" y="184.2" width="1.2" height="24.3" fill="#ef5350"/>
<rect x="606.29" y="196.0" width="6.2" height="7.0" fill="#ef5350"/>
<rect x="616.95" y="179.6" width="1.2" height="27.0" fill="#26a69a"/>
<rect x="614.45" y="180.4" width="6.2" height="22.6" fill="#26a69a"/>
<rect x="625.11" y="175.8" width="1.2" height="31.9" fill="#ef5350"/>
<rect x="622.61" y="180.3" width="6.2" height="18.9" fill="#ef5350"/>
<rect x="633.27" y="194.7" width="1.2" height="21.5" fill="#ef5350"/>
<rect x="630.77" y="198.7" width="6.2" height="1.5" fill="#ef5350"/>
<rect x="641.42" y="170.2" width="1.2" height="30.0" fill="#26a69a"/>
<rect x="638.92" y="191.2" width="6.2" height="9.0" fill="#26a69a"/>
<rect x="649.58" y="183.2" width="1.2" height="23.6" fill="#ef5350"/>
<rect x="647.08" y="191.2" width="6.2" height="13.7" fill="#ef5350"/>
<rect x="657.74" y="167.5" width="1.2" height="55.3" fill="#26a69a"/>
<rect x="655.24" y="169.0" width="6.2" height="35.9" fill="#26a69a"/>
<rect x="665.90" y="169.0" width="1.2" height="35.9" fill="#ef5350"/>
<rect x="663.40" y="169.0" width="6.2" height="23.0" fill="#ef5350"/>
<rect x="674.06" y="184.2" width="1.2" height="16.9" fill="#ef5350"/>
<rect x="671.56" y="191.2" width="6.2" height="9.9" fill="#ef5350"/>
<rect x="682.21" y="188.0" width="1.2" height="13.1" fill="#26a69a"/>
<rect x="679.71" y="194.2" width="6.2" height="6.9" fill="#26a69a"/>
<rect x="690.37" y="188.4" width="1.2" height="18.4" fill="#ef5350"/>
<rect x="687.87" y="194.2" width="6.2" height="6.0" fill="#ef5350"/>
<rect x="698.53" y="191.0" width="1.2" height="29.6" fill="#ef5350"/>
<rect x="696.03" y="199.2" width="6.2" height="16.6" fill="#ef5350"/>
<rect x="706.69" y="209.2" width="1.2" height="40.0" fill="#ef5350"/>
<rect x="704.19" y="215.0" width="6.2" height="22.5" fill="#ef5350"/>
<rect x="714.85" y="231.3" width="1.2" height="52.9" fill="#ef5350"/>
<rect x="712.35" y="237.0" width="6.2" height="34.9" fill="#ef5350"/>
<rect x="723.00" y="248.2" width="1.2" height="46.2" fill="#26a69a"/>
<rect x="720.50" y="268.3" width="6.2" height="3.7" fill="#26a69a"/>
<rect x="731.16" y="268.3" width="1.2" height="58.1" fill="#ef5350"/>
<rect x="728.66" y="268.3" width="6.2" height="47.2" fill="#ef5350"/>
<rect x="739.32" y="306.6" width="1.2" height="29.2" fill="#ef5350"/>
<rect x="736.82" y="314.7" width="6.2" height="9.8" fill="#ef5350"/>
<rect x="747.48" y="298.0" width="1.2" height="38.8" fill="#26a69a"/>
<rect x="744.98" y="300.0" width="6.2" height="24.5" fill="#26a69a"/>
<rect x="755.64" y="296.6" width="1.2" height="37.4" fill="#ef5350"/>
<rect x="753.14" y="300.0" width="6.2" height="34.0" fill="#ef5350"/>
<rect x="763.79" y="277.4" width="1.2" height="56.6" fill="#26a69a"/>
<rect x="761.29" y="295.0" width="6.2" height="39.0" fill="#26a69a"/>
<rect x="771.95" y="248.7" width="1.2" height="56.0" fill="#26a69a"/>
<rect x="769.45" y="251.0" width="6.2" height="44.8" fill="#26a69a"/>
<rect x="780.11" y="251.0" width="1.2" height="33.0" fill="#ef5350"/>
<rect x="777.61" y="251.0" width="6.2" height="25.4" fill="#ef5350"/>
<rect x="788.27" y="255.7" width="1.2" height="33.3" fill="#26a69a"/>
<rect x="785.77" y="268.3" width="6.2" height="8.1" fill="#26a69a"/>
<rect x="796.43" y="259.4" width="1.2" height="23.2" fill="#ef5350"/>
<rect x="793.93" y="268.3" width="6.2" height="6.7" fill="#ef5350"/>
<rect x="804.58" y="251.0" width="1.2" height="26.0" fill="#26a69a"/>
<rect x="802.08" y="266.4" width="6.2" height="8.6" fill="#26a69a"/>
<rect x="812.74" y="260.4" width="1.2" height="22.2" fill="#26a69a"/>
<rect x="810.24" y="261.9" width="6.2" height="5.6" fill="#26a69a"/>
<rect x="820.90" y="256.6" width="1.2" height="12.3" fill="#ef5350"/>
<rect x="818.40" y="261.3" width="6.2" height="1.3" fill="#ef5350"/>
<rect x="829.06" y="258.5" width="1.2" height="23.0" fill="#ef5350"/>
<rect x="826.56" y="263.2" width="6.2" height="6.2" fill="#ef5350"/>
<rect x="837.22" y="257.5" width="1.2" height="11.9" fill="#26a69a"/>
<rect x="834.72" y="264.2" width="6.2" height="5.2" fill="#26a69a"/>
<rect x="845.37" y="261.0" width="1.2" height="18.2" fill="#ef5350"/>
<rect x="842.87" y="264.3" width="6.2" height="10.3" fill="#ef5350"/>
<rect x="853.53" y="260.6" width="1.2" height="21.3" fill="#26a69a"/>
<rect x="851.03" y="263.0" width="6.2" height="11.7" fill="#26a69a"/>
<rect x="861.69" y="260.6" width="1.2" height="55.6" fill="#ef5350"/>
<rect x="859.19" y="263.0" width="6.2" height="33.4" fill="#ef5350"/>
<rect x="869.85" y="292.6" width="1.2" height="19.9" fill="#ef5350"/>
<rect x="867.35" y="295.8" width="6.2" height="6.2" fill="#ef5350"/>
<rect x="878.01" y="297.4" width="1.2" height="16.0" fill="#ef5350"/>
<rect x="875.51" y="301.1" width="6.2" height="2.9" fill="#ef5350"/>
<rect x="886.16" y="299.2" width="1.2" height="17.4" fill="#ef5350"/>
<rect x="883.66" y="303.0" width="6.2" height="13.6" fill="#ef5350"/>
<rect x="894.32" y="310.2" width="1.2" height="18.3" fill="#ef5350"/>
<rect x="891.82" y="315.8" width="6.2" height="3.2" fill="#ef5350"/>
<rect x="902.48" y="305.0" width="1.2" height="27.8" fill="#26a69a"/>
<rect x="899.98" y="305.0" width="6.2" height="14.0" fill="#26a69a"/>
<rect x="910.64" y="268.0" width="1.2" height="43.0" fill="#26a69a"/>
<rect x="908.14" y="284.2" width="6.2" height="21.6" fill="#26a69a"/>
<rect x="918.80" y="268.7" width="1.2" height="25.8" fill="#ef5350"/>
<rect x="916.30" y="284.2" width="6.2" height="10.3" fill="#ef5350"/>
<rect x="926.95" y="292.0" width="1.2" height="31.8" fill="#ef5350"/>
<rect x="924.45" y="294.0" width="6.2" height="16.2" fill="#ef5350"/>
<rect x="935.11" y="281.3" width="1.2" height="38.7" fill="#26a69a"/>
<rect x="932.61" y="296.4" width="6.2" height="13.8" fill="#26a69a"/>
<rect x="943.27" y="272.0" width="1.2" height="25.4" fill="#26a69a"/>
<rect x="940.77" y="280.8" width="6.2" height="16.6" fill="#26a69a"/>
<rect x="951.43" y="273.8" width="1.2" height="34.9" fill="#ef5350"/>
<rect x="948.93" y="280.8" width="6.2" height="5.6" fill="#ef5350"/>
<rect x="959.59" y="272.0" width="1.2" height="40.0" fill="#ef5350"/>
<rect x="957.09" y="286.0" width="6.2" height="8.5" fill="#ef5350"/>
<rect x="967.74" y="249.2" width="1.2" height="45.4" fill="#26a69a"/>
<rect x="965.24" y="256.9" width="6.2" height="37.7" fill="#26a69a"/>
<rect x="975.90" y="243.1" width="1.2" height="36.4" fill="#ef5350"/>
<rect x="973.40" y="256.9" width="6.2" height="21.5" fill="#ef5350"/>
<rect x="984.06" y="271.4" width="1.2" height="16.1" fill="#ef5350"/>
<rect x="981.56" y="277.5" width="6.2" height="8.5" fill="#ef5350"/>
<rect x="992.22" y="270.0" width="1.2" height="27.8" fill="#26a69a"/>
<rect x="989.72" y="285.2" width="6.2" height="1.2" fill="#26a69a"/>
<rect x="1000.38" y="279.0" width="1.2" height="19.4" fill="#26a69a"/>
<rect x="997.88" y="285.2" width="6.2" height="1.2" fill="#26a69a"/>
<rect x="1008.53" y="271.0" width="1.2" height="16.8" fill="#26a69a"/>
<rect x="1006.03" y="282.2" width="6.2" height="3.8" fill="#26a69a"/>
<rect x="1016.69" y="280.8" width="1.2" height="9.5" fill="#ef5350"/>
<rect x="1014.19" y="282.2" width="6.2" height="5.3" fill="#ef5350"/>
<rect x="1024.85" y="277.5" width="1.2" height="19.4" fill="#26a69a"/>
<rect x="1022.35" y="280.3" width="6.2" height="7.2" fill="#26a69a"/>
<rect x="1033.01" y="271.0" width="1.2" height="12.7" fill="#26a69a"/>
<rect x="1030.51" y="271.0" width="6.2" height="9.8" fill="#26a69a"/>
<rect x="1041.17" y="251.2" width="1.2" height="20.8" fill="#26a69a"/>
<rect x="1038.67" y="269.5" width="6.2" height="2.5" fill="#26a69a"/>
<rect x="1049.32" y="255.0" width="1.2" height="18.9" fill="#26a69a"/>
<rect x="1046.82" y="267.6" width="6.2" height="2.4" fill="#26a69a"/>
<rect x="1057.48" y="258.2" width="1.2" height="22.1" fill="#ef5350"/>
<rect x="1054.98" y="267.6" width="6.2" height="1.4" fill="#ef5350"/>
<rect x="1065.64" y="247.5" width="1.2" height="24.5" fill="#26a69a"/>
<rect x="1063.14" y="252.2" width="6.2" height="16.8" fill="#26a69a"/>
<rect x="1073.80" y="246.3" width="1.2" height="16.7" fill="#26a69a"/>
<rect x="1071.30" y="248.8" width="6.2" height="3.7" fill="#26a69a"/>
<rect x="1081.96" y="240.0" width="1.2" height="18.2" fill="#ef5350"/>
<rect x="1079.46" y="248.8" width="6.2" height="9.4" fill="#ef5350"/>
<rect x="1090.11" y="246.0" width="1.2" height="16.6" fill="#26a69a"/>
<rect x="1087.61" y="246.0" width="6.2" height="12.0" fill="#26a69a"/>
<rect x="1098.27" y="220.2" width="1.2" height="31.7" fill="#26a69a"/>
<rect x="1095.77" y="226.2" width="6.2" height="20.4" fill="#26a69a"/>
<rect x="1106.43" y="218.3" width="1.2" height="33.0" fill="#ef5350"/>
<rect x="1103.93" y="226.2" width="6.2" height="8.7" fill="#ef5350"/>
<rect x="1114.59" y="221.1" width="1.2" height="25.5" fill="#ef5350"/>
<rect x="1112.09" y="234.3" width="6.2" height="8.5" fill="#ef5350"/>
<rect x="1122.75" y="234.3" width="1.2" height="38.7" fill="#ef5350"/>
<rect x="1120.25" y="242.5" width="6.2" height="29.5" fill="#ef5350"/>
<rect x="1130.90" y="266.4" width="1.2" height="21.9" fill="#ef5350"/>
<rect x="1128.40" y="271.1" width="6.2" height="5.6" fill="#ef5350"/>
<rect x="1139.06" y="253.2" width="1.2" height="28.8" fill="#26a69a"/>
<rect x="1136.56" y="261.3" width="6.2" height="15.4" fill="#26a69a"/>
<rect x="1147.22" y="255.0" width="1.2" height="116.9" fill="#ef5350"/>
<rect x="1144.72" y="261.3" width="6.2" height="94.0" fill="#ef5350"/>
<rect x="1155.38" y="330.4" width="1.2" height="70.2" fill="#ef5350"/>
<rect x="1152.88" y="354.9" width="6.2" height="14.1" fill="#ef5350"/>
<rect x="1163.54" y="325.6" width="1.2" height="47.2" fill="#26a69a"/>
<rect x="1161.04" y="328.9" width="6.2" height="40.1" fill="#26a69a"/>
<rect x="1171.69" y="305.5" width="1.2" height="26.4" fill="#26a69a"/>
<rect x="1169.19" y="311.0" width="6.2" height="19.4" fill="#26a69a"/>
<rect x="1179.85" y="305.5" width="1.2" height="28.3" fill="#ef5350"/>
<rect x="1177.35" y="311.0" width="6.2" height="12.8" fill="#ef5350"/>
<rect x="1188.01" y="301.0" width="1.2" height="25.7" fill="#26a69a"/>
<rect x="1185.51" y="311.9" width="6.2" height="11.9" fill="#26a69a"/>
<rect x="1196.17" y="294.0" width="1.2" height="22.5" fill="#26a69a"/>
<rect x="1193.67" y="295.7" width="6.2" height="17.1" fill="#26a69a"/>
<rect x="1204.33" y="295.5" width="1.2" height="13.7" fill="#ef5350"/>
<rect x="1201.83" y="295.7" width="6.2" height="7.9" fill="#ef5350"/>
<rect x="1212.48" y="294.2" width="1.2" height="9.8" fill="#26a69a"/>
<rect x="1209.98" y="294.5" width="6.2" height="9.5" fill="#26a69a"/>
<rect x="1220.64" y="294.5" width="1.2" height="18.5" fill="#ef5350"/>
<rect x="1218.14" y="294.5" width="6.2" height="7.5" fill="#ef5350"/>
<rect x="1228.80" y="293.6" width="1.2" height="8.4" fill="#26a69a"/>
<rect x="1226.30" y="294.5" width="6.2" height="7.5" fill="#26a69a"/>
<rect x="1236.96" y="292.3" width="1.2" height="13.5" fill="#ef5350"/>
<rect x="1234.46" y="294.5" width="6.2" height="11.3" fill="#ef5350"/>
<rect x="1245.12" y="302.2" width="1.2" height="12.7" fill="#ef5350"/>
<rect x="1242.62" y="305.2" width="6.2" height="6.7" fill="#ef5350"/>
<rect x="1253.27" y="294.3" width="1.2" height="19.4" fill="#26a69a"/>
<rect x="1250.77" y="296.7" width="6.2" height="15.2" fill="#26a69a"/>
<rect x="1261.43" y="278.1" width="1.2" height="24.7" fill="#26a69a"/>
<rect x="1258.93" y="286.6" width="6.2" height="10.4" fill="#26a69a"/>
<rect x="1269.59" y="278.1" width="1.2" height="11.3" fill="#26a69a"/>
<rect x="1267.09" y="283.0" width="6.2" height="4.4" fill="#26a69a"/>
<rect x="1277.75" y="279.1" width="1.2" height="11.9" fill="#ef5350"/>
<rect x="1275.25" y="283.0" width="6.2" height="8.0" fill="#ef5350"/>
<rect x="1285.91" y="286.4" width="1.2" height="10.3" fill="#ef5350"/>
<rect x="1283.41" y="290.0" width="6.2" height="3.9" fill="#ef5350"/>
<rect x="1294.06" y="267.6" width="1.2" height="29.9" fill="#26a69a"/>
<rect x="1291.56" y="269.2" width="6.2" height="24.7" fill="#26a69a"/>
<rect x="1302.22" y="265.2" width="1.2" height="24.8" fill="#ef5350"/>
<rect x="1299.72" y="269.2" width="6.2" height="17.4" fill="#ef5350"/>
<rect x="1310.38" y="284.0" width="1.2" height="26.9" fill="#ef5350"/>
<rect x="1307.88" y="285.8" width="6.2" height="12.5" fill="#ef5350"/>
<rect x="1318.54" y="273.7" width="1.2" height="24.2" fill="#26a69a"/>
<rect x="1316.04" y="292.2" width="6.2" height="5.7" fill="#26a69a"/>
<rect x="1326.70" y="281.8" width="1.2" height="17.9" fill="#ef5350"/>
<rect x="1324.20" y="292.2" width="6.2" height="6.1" fill="#ef5350"/>
<rect x="1334.85" y="288.2" width="1.2" height="27.3" fill="#ef5350"/>
<rect x="1332.35" y="297.5" width="6.2" height="5.3" fill="#ef5350"/>
<rect x="1343.01" y="291.8" width="1.2" height="29.8" fill="#ef5350"/>
<rect x="1340.51" y="302.2" width="6.2" height="12.7" fill="#ef5350"/>
<rect x="1351.17" y="279.1" width="1.2" height="40.6" fill="#26a69a"/>
<rect x="1348.67" y="284.0" width="6.2" height="30.9" fill="#26a69a"/>
<rect x="1359.33" y="258.2" width="1.2" height="29.4" fill="#26a69a"/>
<rect x="1356.83" y="282.1" width="6.2" height="2.5" fill="#26a69a"/>
<rect x="1367.49" y="268.2" width="1.2" height="17.6" fill="#26a69a"/>
<rect x="1364.99" y="279.4" width="6.2" height="3.4" fill="#26a69a"/>
<rect x="1375.64" y="277.7" width="1.2" height="19.0" fill="#ef5350"/>
<rect x="1373.14" y="279.4" width="6.2" height="16.1" fill="#ef5350"/>
<rect x="1383.80" y="281.0" width="1.2" height="23.6" fill="#26a69a"/>
<rect x="1381.30" y="288.6" width="6.2" height="7.3" fill="#26a69a"/>
<rect x="1391.96" y="285.8" width="1.2" height="12.5" fill="#ef5350"/>
<rect x="1389.46" y="288.6" width="6.2" height="4.1" fill="#ef5350"/>
<rect x="1400.12" y="287.6" width="1.2" height="10.7" fill="#ef5350"/>
<rect x="1397.62" y="291.8" width="6.2" height="3.1" fill="#ef5350"/>
<rect x="1408.28" y="291.8" width="1.2" height="15.5" fill="#ef5350"/>
<rect x="1405.78" y="293.9" width="6.2" height="13.4" fill="#ef5350"/>
</g>
<g clip-path="url(#rsi)">
<rect x="0" y="603.5" width="1514" height="74" fill="#0e0b16"/>
<rect x="103" y="578" width="1" height="124" fill="#0d0d0d"/>
<rect x="299" y="578" width="1" height="124" fill="#0d0d0d"/>
<rect x="495" y="578" width="1" height="124" fill="#0d0d0d"/>
<rect x="691" y="578" width="1" height="124" fill="#0d0d0d"/>
<rect x="886" y="578" width="1" height="124" fill="#0d0d0d"/>
<rect x="1082" y="578" width="1" height="124" fill="#0d0d0d"/>
<rect x="1278" y="578" width="1" height="124" fill="#0d0d0d"/>
<rect x="1474" y="578" width="1" height="124" fill="#0d0d0d"/>
<rect x="0" y="594.0" width="1514" height="1" fill="#0d0d0d"/>
<rect x="0" y="686.0" width="1514" height="1" fill="#0d0d0d"/>
<rect x="6" y="591" width="290" height="24.6" fill="#000" fill-opacity="0.75"/>
<line x1="0" y1="603.5" x2="1514" y2="603.5" stroke="#868993" stroke-opacity="0.8" stroke-width="1.1" stroke-dasharray="4.8,5.173" stroke-dashoffset="0.2"/>
<line x1="0" y1="640.5" x2="1514" y2="640.5" stroke="#868993" stroke-opacity="0.55" stroke-width="1.1" stroke-dasharray="4.8,5.173" stroke-dashoffset="0.2"/>
<line x1="0" y1="677.5" x2="1514" y2="677.5" stroke="#868993" stroke-opacity="0.8" stroke-width="1.1" stroke-dasharray="4.8,5.173" stroke-dashoffset="0.2"/>
<polygon clip-path="url(#ob)" points="0.0,645.9 5.2,657.0 20.7,636.6 30.2,641.5 37.1,637.5 46.6,636.8 61.3,640.8 70.8,634.3 79.4,634.3 86.3,637.0 94.9,627.6 103.5,636.6 111.3,636.6 123.6,659.4 141.0,671.0 159.3,665.0 176.9,650.6 185.5,660.0 200.0,665.0 208.6,657.5 218.1,664.5 226.7,655.5 236.2,653.5 243.1,653.6 256.9,658.8 267.3,651.3 274.2,651.3 282.8,652.2 291.5,646.0 300.0,637.0 307.0,629.8 315.3,642.2 322.5,633.5 332.0,620.3 340.6,613.6 348.4,612.0 356.2,604.8 365.7,578.0 384.6,578.0 389.0,582.5 400.0,584.0 406.9,585.0 420.7,584.0 430.2,591.0 438.0,586.4 445.7,602.5 453.5,600.0 463.8,597.0 478.5,594.0 486.3,591.0 494.9,590.0 502.7,616.6 511.3,624.4 520.0,601.0 531.1,600.3 544.1,603.0 551.9,597.5 560.5,587.8 568.2,598.6 576.0,598.6 584.6,620.0 592.4,617.6 600.0,622.6 609.5,625.5 617.3,620.3 625.9,626.7 633.6,626.7 642.3,624.4 650.0,629.0 658.3,620.0 666.4,627.8 675.0,631.3 682.8,629.0 690.6,631.5 698.4,640.0 707.0,648.0 715.6,655.4 723.4,653.7 732.0,666.0 739.8,668.4 748.4,658.2 756.2,666.5 764.8,649.0 772.6,639.0 781.2,645.8 789.8,643.6 796.7,645.0 806.9,641.0 813.8,640.0 821.6,640.3 830.2,643.3 838.0,641.3 845.7,646.0 853.5,640.6 862.1,653.6 870.8,655.6 877.7,656.0 886.3,660.5 894.9,661.6 903.5,652.0 911.3,643.3 919.9,648.6 927.7,654.0 935.5,646.5 944.1,639.4 951.9,641.5 960.5,646.0 968.2,628.4 976.9,638.8 984.6,641.3 1000.0,641.3 1008.6,639.6 1016.4,643.3 1024.2,640.6 1033.6,633.3 1050.0,631.3 1058.7,632.4 1066.4,621.7 1074.2,619.5 1082.8,627.6 1090.6,620.7 1099.2,610.3 1107.9,619.2 1115.6,626.7 1123.4,644.3 1131.5,647.0 1139.4,637.6 1148.4,674.6 1156.2,677.6 1164.3,658.5 1172.6,650.2 1180.3,654.6 1188.1,648.6 1196.7,642.3 1206.0,645.5 1213.0,641.6 1221.6,645.0 1230.2,641.6 1238.0,647.6 1245.7,649.8 1253.5,642.2 1261.3,637.0 1269.9,634.6 1278.5,639.6 1286.3,641.3 1294.6,628.4 1303.5,637.6 1311.3,644.3 1319.9,641.3 1327.7,645.0 1335.5,646.5 1343.7,652.6 1351.9,635.3 1359.6,634.0 1368.2,632.4 1376.9,642.2 1384.6,638.8 1400.2,641.6 1409.3,649.6 1409.3,603.6 0,603.6" fill="url(#obg)"/>
<polyline points="0.0,645.9 5.2,657.0 20.7,636.6 30.2,641.5 37.1,637.5 46.6,636.8 61.3,640.8 70.8,634.3 79.4,634.3 86.3,637.0 94.9,627.6 103.5,636.6 111.3,636.6 123.6,659.4 141.0,671.0 159.3,665.0 176.9,650.6 185.5,660.0 200.0,665.0 208.6,657.5 218.1,664.5 226.7,655.5 236.2,653.5 243.1,653.6 256.9,658.8 267.3,651.3 274.2,651.3 282.8,652.2 291.5,646.0 300.0,637.0 307.0,629.8 315.3,642.2 322.5,633.5 332.0,620.3 340.6,613.6 348.4,612.0 356.2,604.8 365.7,578.0 384.6,578.0 389.0,582.5 400.0,584.0 406.9,585.0 420.7,584.0 430.2,591.0 438.0,586.4 445.7,602.5 453.5,600.0 463.8,597.0 478.5,594.0 486.3,591.0 494.9,590.0 502.7,616.6 511.3,624.4 520.0,601.0 531.1,600.3 544.1,603.0 551.9,597.5 560.5,587.8 568.2,598.6 576.0,598.6 584.6,620.0 592.4,617.6 600.0,622.6 609.5,625.5 617.3,620.3 625.9,626.7 633.6,626.7 642.3,624.4 650.0,629.0 658.3,620.0 666.4,627.8 675.0,631.3 682.8,629.0 690.6,631.5 698.4,640.0 707.0,648.0 715.6,655.4 723.4,653.7 732.0,666.0 739.8,668.4 748.4,658.2 756.2,666.5 764.8,649.0 772.6,639.0 781.2,645.8 789.8,643.6 796.7,645.0 806.9,641.0 813.8,640.0 821.6,640.3 830.2,643.3 838.0,641.3 845.7,646.0 853.5,640.6 862.1,653.6 870.8,655.6 877.7,656.0 886.3,660.5 894.9,661.6 903.5,652.0 911.3,643.3 919.9,648.6 927.7,654.0 935.5,646.5 944.1,639.4 951.9,641.5 960.5,646.0 968.2,628.4 976.9,638.8 984.6,641.3 1000.0,641.3 1008.6,639.6 1016.4,643.3 1024.2,640.6 1033.6,633.3 1050.0,631.3 1058.7,632.4 1066.4,621.7 1074.2,619.5 1082.8,627.6 1090.6,620.7 1099.2,610.3 1107.9,619.2 1115.6,626.7 1123.4,644.3 1131.5,647.0 1139.4,637.6 1148.4,674.6 1156.2,677.6 1164.3,658.5 1172.6,650.2 1180.3,654.6 1188.1,648.6 1196.7,642.3 1206.0,645.5 1213.0,641.6 1221.6,645.0 1230.2,641.6 1238.0,647.6 1245.7,649.8 1253.5,642.2 1261.3,637.0 1269.9,634.6 1278.5,639.6 1286.3,641.3 1294.6,628.4 1303.5,637.6 1311.3,644.3 1319.9,641.3 1327.7,645.0 1335.5,646.5 1343.7,652.6 1351.9,635.3 1359.6,634.0 1368.2,632.4 1376.9,642.2 1384.6,638.8 1400.2,641.6 1409.3,649.6" fill="none" stroke="#7e57c2" stroke-width="1.6" stroke-linejoin="round"/>
<polyline points="0.0,630.6 12.5,633.1 37.5,635.0 50.0,634.4 70.0,636.0 87.5,638.8 95.0,640.0 106.3,639.4 120.0,638.1 130.0,640.6 150.0,648.1 162.5,650.6 181.3,653.1 200.0,658.5 225.9,663.8 241.4,663.0 269.0,657.6 291.5,656.0 303.5,652.0 324.2,649.4 356.3,637.0 380.6,618.3 408.3,603.6 421.3,598.8 438.0,590.6 451.8,589.0 469.0,587.4 494.9,591.0 512.2,596.6 529.4,599.0 550.0,601.0 564.0,599.8 576.0,600.0 589.8,602.5 600.0,605.0 609.5,608.4 625.9,608.6 650.0,614.6 658.7,616.3 674.2,621.3 691.5,626.2 720.8,632.3 738.0,639.4 755.3,644.6 765.7,646.9 781.2,648.6 800.0,650.6 820.7,651.3 843.1,648.0 855.2,646.0 872.5,645.0 889.7,647.6 907.0,649.0 920.8,649.2 934.6,650.0 960.5,650.0 981.2,647.0 1000.0,644.5 1017.3,641.3 1032.8,640.0 1051.8,638.0 1074.2,634.8 1091.5,633.0 1113.9,628.2 1139.8,628.8 1157.0,635.3 1170.8,637.6 1188.1,642.3 1200.0,644.3 1213.8,647.4 1231.0,651.0 1253.5,651.5 1269.9,645.8 1286.3,643.4 1296.6,640.7 1312.2,640.3 1338.0,640.6 1346.7,641.3 1369.1,639.0 1389.8,639.6 1400.2,640.3 1409.3,641.3" fill="none" stroke="#e8d23a" stroke-width="1.6" stroke-linejoin="round"/>
<g transform="translate(16.5,658.3) scale(1.125)" fill="#d1d4dc" stroke="#131722" stroke-width="4" stroke-linejoin="round" paint-order="stroke"><path d="M14 22H7V11H0V4h14v18zM28 22h-8l7.5-18h8L28 22z"/><circle cx="20" cy="7" r="4"/></g>
</g>
<rect x="6" y="45" width="101" height="23" fill="#000" fill-opacity="0.8"/>
<rect x="0" y="576" width="1598" height="2" fill="#292c36"/>
<rect x="0" y="701.8" width="1598" height="1" fill="#262830"/>
<rect x="1513.6" y="0" width="1" height="742" fill="#2a2e39"/>
<path d="M0 0.6 H1592 A6 6 0 0 1 1598.9 7 V742" fill="none" stroke="#2a2e39" stroke-width="1.5"/>
<rect x="0" y="740" width="1600" height="2" fill="#1f222b"/>
<path d="M0 0 H6 A5 5 0 0 0 0 5 Z" fill="#262a35"/>
<rect x="1519.5" y="6.5" width="73" height="34" rx="6" fill="#131722" stroke="#2a2e39" stroke-width="1"/>
<path d="M1579.5 21.6 L1583 25 L1586.5 21.6" fill="none" stroke="#d1d4dc" stroke-width="1.5" stroke-linecap="round" stroke-linejoin="round"/>
<rect x="13.5" y="107.5" width="37" height="27" rx="3.5" fill="#000" stroke="#2a2e39" stroke-width="1.1"/>
<path d="M27.3 123 L32 118.3 L36.7 123" fill="none" stroke="#d1d4dc" stroke-width="1.6" stroke-linecap="round" stroke-linejoin="round"/>
<rect x="342.7" y="11.3" width="54" height="23.7" rx="11.85" fill="#17191b"/>
<path d="M369.7 11.3 H384.85 A11.85 11.85 0 0 1 384.85 35 H369.7 Z" fill="#2f1216"/>
<rect x="351" y="20.7" width="14" height="4.6" rx="2.3" fill="#b2b5be"/>
<path d="M377.6 20.3 q2.7 -2.3 5.4 0 t5.4 0 M377.6 25 q2.7 -2.3 5.4 0 t5.4 0" fill="none" stroke="#e8333f" stroke-width="2.1" stroke-linecap="butt"/>
<defs><clipPath id="usc"><circle cx="28.6" cy="18.8" r="8"/></clipPath></defs>
<g clip-path="url(#usc)"><rect x="20" y="10" width="18" height="18" fill="#f4f4f5"/><rect x="20" y="10.6" width="18" height="3.9" fill="#e8474b"/><rect x="20" y="16.8" width="18" height="3.9" fill="#e8474b"/><rect x="20" y="23.0" width="18" height="3.9" fill="#e8474b"/><rect x="20" y="10" width="10" height="10.7" fill="#3b8ee6"/></g>
<rect x="23.7" y="13.0" width="1.2" height="1.2" fill="#e8e8f0"/>
<rect x="26.7" y="13.0" width="1.2" height="1.2" fill="#e8e8f0"/>
<rect x="23.7" y="15.3" width="1.2" height="1.2" fill="#e8e8f0"/>
<rect x="26.7" y="15.3" width="1.2" height="1.2" fill="#e8e8f0"/>
<circle cx="19.86" cy="27.1" r="9.7" fill="#000"/>
<circle cx="19.86" cy="27.1" r="8.1" fill="#2a72d6"/>
<rect x="23.86" y="26.30" width="1.6" height="1.6" fill="#d9a540"/>
<rect x="22.45" y="29.69" width="1.6" height="1.6" fill="#d9a540"/>
<rect x="19.06" y="31.10" width="1.6" height="1.6" fill="#d9a540"/>
<rect x="15.67" y="29.69" width="1.6" height="1.6" fill="#d9a540"/>
<rect x="14.26" y="26.30" width="1.6" height="1.6" fill="#d9a540"/>
<rect x="15.67" y="22.91" width="1.6" height="1.6" fill="#d9a540"/>
<rect x="19.06" y="21.50" width="1.6" height="1.6" fill="#d9a540"/>
<rect x="22.45" y="22.91" width="1.6" height="1.6" fill="#d9a540"/>
<circle cx="222.7" cy="24.4" r="1.85" fill="#d1d4dc"/><circle cx="261.2" cy="24.4" r="1.85" fill="#d1d4dc"/>
<circle cx="1409" cy="557.9" r="14.2" fill="#000"/>
<circle cx="1409" cy="557.9" r="12.8" fill="#131722" stroke="#b447d6" stroke-width="2.1"/>
<path d="M1412.8 551.6 L1404.6 558.6 L1413.8 557.6 L1405.6 564.9" fill="none" stroke="#b447d6" stroke-width="2.3" stroke-linecap="round" stroke-linejoin="round"/>
<path d="M1551.5 713.8 H1561.5 L1566.3 722 L1561.5 730.2 H1551.5 L1546.7 722 Z" fill="none" stroke="#d1d4dc" stroke-width="1.3" stroke-linejoin="round"/>
<circle cx="1556.5" cy="722" r="2.8" fill="none" stroke="#d1d4dc" stroke-width="1.3"/>
</svg>
<div class="t" style="left:41.10px;top:11.50px;font-size:20.5px;color:#d1d4dc;letter-spacing:0.776px;">Euro / U.S. Dollar</div><div class="t" style="left:232.00px;top:11.50px;font-size:20.5px;color:#d1d4dc;letter-spacing:-0.4px;">1h</div><div class="t" style="left:270.50px;top:10.50px;font-size:20.5px;color:#d1d4dc;letter-spacing:-1.5px;">FXCM</div><div class="t" style="left:419.40px;top:13.25px;font-size:16.5px;color:#d1d4dc;letter-spacing:0.429px;">O<span style="color:#f0525c">1.09187</span></div><div class="t" style="left:502.50px;top:13.50px;font-size:16.5px;color:#d1d4dc;letter-spacing:0.429px;">H<span style="color:#f0525c">1.09194</span></div><div class="t" style="left:585.90px;top:13.50px;font-size:16.5px;color:#d1d4dc;letter-spacing:0.2px;">L<span style="color:#f0525c">1.09141</span></div><div class="t" style="left:665.75px;top:13.25px;font-size:16.5px;color:#d1d4dc;letter-spacing:0.393px;">C<span style="color:#f0525c">1.09145</span></div><div class="t" style="left:748.70px;top:13.25px;font-size:16.5px;color:#f0525c;letter-spacing:0.186px;">−0.00042</div><div class="t" style="left:825.50px;top:12.50px;font-size:16.5px;color:#f0525c;letter-spacing:-0.114px;">(−0.04%)</div><div class="t" style="left:12.40px;top:45.75px;font-size:16.5px;color:#d1d4dc;letter-spacing:0.25px;">Vol</div><div class="t" style="left:46.40px;top:46.60px;font-size:16.5px;color:#f0525c;letter-spacing:0.267px;">3.689&#8239;K</div><div class="t" style="left:11.75px;top:78.50px;font-size:16.5px;color:#d1d4dc;letter-spacing:-0.103px;">BB 20 SMA close 2</div><div class="t" style="left:163.40px;top:78.20px;font-size:16.5px;color:#3a6cf5;letter-spacing:0.517px;">1.09197</div><div class="t" style="left:233.10px;top:78.20px;font-size:16.5px;color:#ea3d4a;letter-spacing:0.517px;">1.09265</div><div class="t" style="left:303.50px;top:78.20px;font-size:16.5px;color:#1ea08c;letter-spacing:0.517px;">1.09129</div><div class="t" style="left:11.30px;top:589.80px;font-size:16.5px;color:#d1d4dc;letter-spacing:0.009px;">RSI 14 close</div><div class="t" style="left:116.90px;top:589.80px;font-size:16.5px;color:#8561c8;letter-spacing:0.25px;">44.85</div><div class="t" style="left:167.40px;top:589.80px;font-size:16.5px;color:#f2dc3c;letter-spacing:0.575px;">49.37</div><div class="t" style="left:220.00px;top:588.2px;font-size:19.5px;color:#d1d4dc;transform:scaleX(0.8);transform-origin:0 0">Ø</div><div class="t" style="left:239.90px;top:588.2px;font-size:19.5px;color:#d1d4dc;transform:scaleX(0.8);transform-origin:0 0">Ø</div><div class="t" style="left:260.10px;top:588.2px;font-size:19.5px;color:#d1d4dc;transform:scaleX(0.8);transform-origin:0 0">Ø</div><div class="t" style="left:280.00px;top:588.2px;font-size:19.5px;color:#d1d4dc;transform:scaleX(0.8);transform-origin:0 0">Ø</div><div class="t" style="left:1526.50px;top:53.90px;font-size:16px;color:#d1d4dc;letter-spacing:-0.117px;">1.10000</div><div class="t" style="left:1526.50px;top:110.90px;font-size:16px;color:#d1d4dc;letter-spacing:-0.117px;">1.09800</div><div class="t" style="left:1526.50px;top:167.90px;font-size:16px;color:#d1d4dc;letter-spacing:-0.117px;">1.09600</div><div class="t" style="left:1526.50px;top:224.90px;font-size:16px;color:#d1d4dc;letter-spacing:-0.117px;">1.09400</div><div class="t" style="left:1526.50px;top:281.90px;font-size:16px;color:#d1d4dc;letter-spacing:-0.117px;">1.09200</div><div class="t" style="left:1526.50px;top:338.90px;font-size:16px;color:#d1d4dc;letter-spacing:-0.117px;">1.09000</div><div class="t" style="left:1526.50px;top:395.90px;font-size:16px;color:#d1d4dc;letter-spacing:-0.117px;">1.08800</div><div class="t" style="left:1526.50px;top:452.90px;font-size:16px;color:#d1d4dc;letter-spacing:-0.117px;">1.08600</div><div class="t" style="left:1526.50px;top:509.90px;font-size:16px;color:#d1d4dc;letter-spacing:-0.117px;">1.08400</div><div style="position:absolute;left:1442px;top:295px;width:150px;height:24px;border-radius:2.5px;background:#ef5350"></div><div style="position:absolute;left:1513px;top:295px;width:1px;height:24px;background:#8a3431"></div><div class="t" style="left:1526.40px;top:298.90px;font-size:16px;color:#ffffff;letter-spacing:-0.117px;">1.09145</div><div class="t" style="left:1448.00px;top:297.90px;font-size:15.5px;color:#ffffff;letter-spacing:-1.6px;">EURUSD</div><div class="t" style="left:1523.00px;top:13.40px;font-size:15.5px;color:#d1d4dc;letter-spacing:-1.5px;">USD</div><div class="t" style="left:1526.10px;top:586.00px;font-size:16px;color:#d1d4dc;letter-spacing:0.05px;">75.00</div><div class="t" style="left:1526.10px;top:631.80px;font-size:16px;color:#d1d4dc;letter-spacing:0.05px;">50.00</div><div class="t" style="left:1526.10px;top:677.20px;font-size:16px;color:#d1d4dc;letter-spacing:0.05px;">25.00</div><div class="t" style="left:89.00px;top:712.50px;font-size:17px;color:#d1d4dc;letter-spacing:-0.6px;">Aug</div><div class="t c" style="left:259.3px;top:712.5px;width:80px;font-size:17px;color:#d1d4dc;transform:scaleX(0.9)">2</div><div class="t c" style="left:455.2px;top:712.5px;width:80px;font-size:17px;color:#d1d4dc;transform:scaleX(0.9)">5</div><div class="t c" style="left:651px;top:712.5px;width:80px;font-size:17px;color:#d1d4dc;transform:scaleX(0.9)">6</div><div class="t c" style="left:846.8px;top:712.5px;width:80px;font-size:17px;color:#d1d4dc;transform:scaleX(0.9)">7</div><div class="t c" style="left:1042.6px;top:712.5px;width:80px;font-size:17px;color:#d1d4dc;transform:scaleX(0.9)">8</div><div class="t c" style="left:1238.5px;top:712.5px;width:80px;font-size:17px;color:#d1d4dc;transform:scaleX(0.9)">9</div><div class="t c" style="left:1434.5px;top:712.5px;width:80px;font-size:17px;color:#d1d4dc;transform:scaleX(0.9)">12</div><svg width="1600" height="742" style="position:absolute;left:0;top:0"><text x="67.5" y="682.83" font-family="Liberation Sans" font-weight="bold" font-size="27.5" letter-spacing="0.05" fill="#d1d4dc" stroke="#131722" stroke-width="6.5" stroke-linejoin="round" paint-order="stroke">TradingView</text></svg>
</body></html>
